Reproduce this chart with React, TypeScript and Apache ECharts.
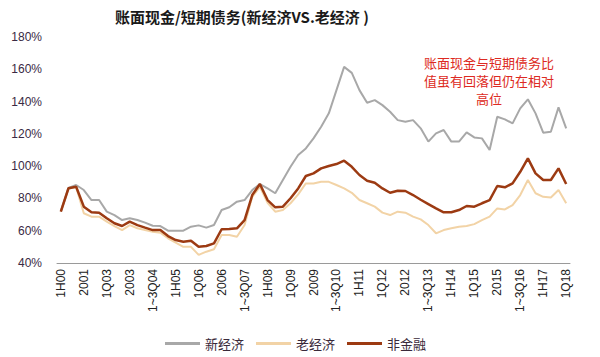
import React, { useEffect, useRef } from "react";
import * as echarts from "echarts";

const categories = [
  "1H00", "2000", "1H01", "2001", "1H02", "2002",
  "1Q03", "1H03", "1~3Q03", "2003",
  "1Q04", "1H04", "1~3Q04", "2004",
  "1Q05", "1H05", "1~3Q05", "2005",
  "1Q06", "1H06", "1~3Q06", "2006",
  "1Q07", "1H07", "1~3Q07", "2007",
  "1Q08", "1H08", "1~3Q08", "2008",
  "1Q09", "1H09", "1~3Q09", "2009",
  "1Q10", "1H10", "1~3Q10", "2010",
  "1Q11", "1H11", "1~3Q11", "2011",
  "1Q12", "1H12", "1~3Q12", "2012",
  "1Q13", "1H13", "1~3Q13", "2013",
  "1Q14", "1H14", "1~3Q14", "2014",
  "1Q15", "1H15", "1~3Q15", "2015",
  "1Q16", "1H16", "1~3Q16", "2016",
  "1Q17", "1H17", "1~3Q17", "2017",
  "1Q18",
];

const newEconomy = [
  72, 86.5, 88.3, 85.2, 79, 79, 71.8, 69.7, 66.6, 67.7,
  66.6, 65, 63.1, 62.9, 60, 60, 60, 62.5, 63.3, 61.9,
  63.5, 72.8, 74.5, 78, 79, 85.2, 88.9, 86.2, 83.2, 91.4,
  99.6, 106.9, 111, 117.2, 124.4, 132.7, 147.1, 161.5, 157.8, 147.1,
  139.3, 140.9, 137.8, 133.7, 128.5, 127.5, 128.5, 123.4, 115.2, 120.3,
  122.4, 115.2, 115.2, 120.9, 117.8, 117.2, 110, 130.6, 129, 126.5,
  135.8, 141.4, 132.7, 120.7, 121.3, 136.4, 123.4,
];

const oldEconomy = [
  72, 86, 87, 70.8, 68.7, 68.7, 65.6, 62.9, 60.4, 63.5,
  61.5, 60.4, 59.4, 58.8, 55.3, 52.6, 50, 50, 45, 47,
  48.5, 57.3, 57.3, 56.3, 63.5, 81, 87.2, 77.3, 71.8, 72.8,
  77, 82.5, 89.3, 89.3, 90.3, 90.3, 88.3, 86.2, 83.5, 79,
  77, 74.9, 71.2, 69.7, 71.8, 71.2, 68.7, 67, 63.5, 58.4,
  60.4, 61.5, 62.5, 62.9, 64.1, 66.6, 68.7, 73.8, 73.2, 75.9,
  82.1, 91.4, 83.2, 81, 80.6, 85.2, 77,
];

const nonFinancial = [
  71.8, 86.3, 87.2, 74.9, 71.4, 71.2, 67.7, 64.6, 62.9, 65.6,
  63.5, 61.9, 60.4, 60.4, 56.7, 54.2, 53.2, 53.8, 50.1, 50.5,
  52.2, 60.9, 61.1, 61.5, 66.6, 82.1, 88.9, 79, 74.5, 74.9,
  80.1, 86.2, 93.9, 95.5, 98.6, 100.1, 101.3, 103.4, 99.6, 94.5,
  91, 89.7, 86.2, 83.5, 84.8, 84.6, 82.1, 79.2, 76.5, 73.8,
  71.4, 71.4, 72.8, 75.3, 74.9, 77, 79, 87.7, 86.9, 89.3,
  96.5, 104.8, 95.5, 91.4, 91.4, 98.6, 88.9,
];

const seriesNames = ["新经济", "老经济", "非金融"];
const titleText = "账面现金/短期债务(新经济VS.老经济 )";
const noteText = "账面现金与短期债务比\n值虽有回落但仍在相对\n高位";

export default function App() {
  const ref = useRef<HTMLDivElement>(null);

  useEffect(() => {
    if (!ref.current) return;
    const chart = echarts.init(ref.current, null, { renderer: "svg" });
    const cjk = '"Noto Sans CJK SC", "Noto Sans", sans-serif';
    const latin = '"Liberation Sans", Arial, sans-serif';
    chart.setOption({
      animation: false,
      backgroundColor: "#ffffff",
      title: {
        text: titleText,
        left: 110,
        top: 4,
        textStyle: { fontFamily: cjk, fontSize: 15, fontWeight: "bold", color: "#1a1a1a" },
      },
      grid: { left: 57, right: 30, top: 37, bottom: 94 },
      legend: {
        left: 160,
        top: 332,
        itemWidth: 35,
        itemHeight: 3,
        itemGap: 12,
        icon: "rect",
        textStyle: { fontFamily: cjk, fontSize: 13, color: "#3a2a3a" },
        data: seriesNames,
      },
      xAxis: {
        type: "category",
        data: categories,
        boundaryGap: true,
        axisLine: { show: true, lineStyle: { color: "#9a9a9a", width: 1 } },
        axisTick: { show: false },
        axisLabel: {
          interval: 2,
          rotate: 90,
          fontFamily: latin,
          fontSize: 12,
          color: "#222",
          margin: 6,
        },
      },
      yAxis: {
        type: "value",
        min: 40,
        max: 180,
        interval: 20,
        axisLine: { show: false },
        axisTick: { show: false },
        splitLine: { show: false },
        axisLabel: {
          formatter: "{value}%",
          fontFamily: latin,
          fontSize: 12,
          color: "#3a2a44",
          margin: 15,
        },
      },
      series: [
        {
          name: seriesNames[0],
          type: "line",
          data: newEconomy,
          symbol: "none",
          lineStyle: { color: "#a8a8a8", width: 2 },
          itemStyle: { color: "#a8a8a8" },
        },
        {
          name: seriesNames[1],
          type: "line",
          data: oldEconomy,
          symbol: "none",
          lineStyle: { color: "#f2d3a6", width: 2 },
          itemStyle: { color: "#f2d3a6" },
        },
        {
          name: seriesNames[2],
          type: "line",
          data: nonFinancial,
          symbol: "none",
          lineStyle: { color: "#9c3a12", width: 2.5 },
          itemStyle: { color: "#9c3a12" },
        },
      ],
      graphic: [
        {
          type: "text",
          x: 489,
          y: 53,
          style: {
            text: noteText,
            fill: "#dd2a22",
            font: `13px ${cjk}`,
            align: "center",
            lineHeight: 18,
          },
        },
      ],
    });
    return () => chart.dispose();
  }, []);

  return (
    <div
      ref={ref}
      style={{ position: "absolute", left: 0, top: 0, width: 600, height: 357 }}
    />
  );
}
